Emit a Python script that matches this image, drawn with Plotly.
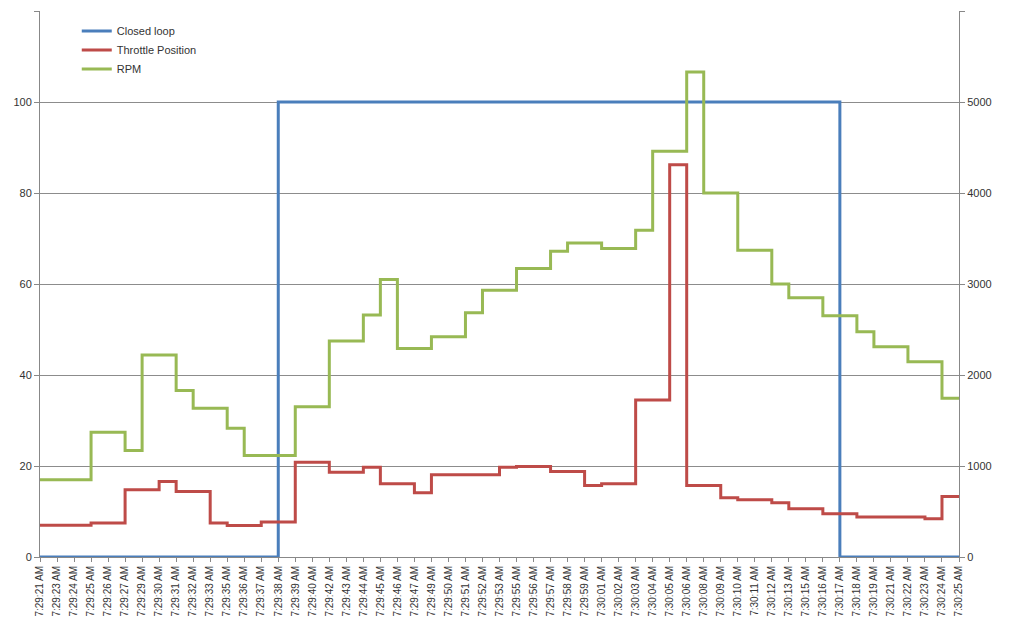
import plotly.graph_objects as go

# === Data ===
times = (
    ["7:29:%02d AM" % s for s in [21, 23, 24, 25, 26, 27, 29, 30, 31, 32, 33, 35, 36, 37, 38, 39, 40,
                                  42, 43, 44, 45, 46, 47, 49, 50, 51, 52, 53, 55, 56, 57, 58, 59]]
    + ["7:30:%02d AM" % s for s in [1, 2, 3, 4, 5, 6, 8, 9, 10, 11, 12, 13, 15, 16, 17, 18, 19,
                                    21, 22, 23, 24, 25]]
)
closed_loop = [0] * 14 + [100] * 33 + [0] * 8
throttle = [7, 7, 7, 7.5, 7.5, 14.8, 14.8, 16.6, 14.4, 14.4, 7.5, 6.9, 6.9, 7.7, 7.7,
            20.8, 20.8, 18.6, 18.6, 19.7, 16.1, 16.1, 14.1, 18.1, 18.1, 18.1, 18.1, 19.7,
            19.9, 19.9, 18.8, 18.8, 15.7, 16.1, 16.1, 34.5, 34.5, 86.2, 15.7, 15.7, 13,
            12.6, 12.6, 11.9, 10.6, 10.6, 9.5, 9.5, 8.8, 8.8, 8.8, 8.8, 8.4, 13.3, 13.3]
rpm = [850, 850, 850, 1370, 1370, 1170, 2220, 2220, 1830, 1635, 1635, 1415, 1115, 1115,
       1115, 1650, 1650, 2375, 2375, 2660, 3050, 2290, 2290, 2420, 2420, 2685, 2930, 2930,
       3170, 3170, 3360, 3450, 3450, 3390, 3390, 3590, 4460, 4460, 5330, 4000, 4000, 3370,
       3370, 3000, 2850, 2850, 2650, 2650, 2475, 2310, 2310, 2145, 2145, 1745, 1745]

fig = go.Figure()
fig.add_scatter(x=times, y=closed_loop, name="Closed loop", mode="lines",
                line=dict(color="#4a7ebb", width=3, shape="hv"))
fig.add_scatter(x=times, y=throttle, name="Throttle Position", mode="lines",
                line=dict(color="#be4b48", width=3, shape="hv"))
fig.add_scatter(x=times, y=rpm, name="RPM", mode="lines", yaxis="y2",
                line=dict(color="#98b954", width=3, shape="hv"))

fig.update_layout(
    width=1024, height=636,
    margin=dict(l=32, r=73, t=3, b=87),
    paper_bgcolor="white", plot_bgcolor="white",
    font=dict(family="Liberation Sans", size=11, color="#333"),
    xaxis=dict(type="category", tickangle=-90, tickfont=dict(size=10),
               showgrid=False, showline=True, linecolor="#888", ticks="outside",
               tickcolor="#888", ticklen=4),
    yaxis=dict(range=[0, 120], dtick=20, showgrid=True, gridcolor="#8c8c8c",
               showline=True, linecolor="#888", ticks="outside", tickcolor="#888",
               zeroline=False),
    yaxis2=dict(range=[0, 6000], dtick=1000, overlaying="y", side="right",
                showgrid=False, showline=True, linecolor="#888", ticks="outside",
                tickcolor="#888", zeroline=False),
    legend=dict(x=0.04, y=0.99, xanchor="left", yanchor="top",
                bgcolor="rgba(0,0,0,0)", font=dict(size=11)),
)

fig.write_html("out.html")
